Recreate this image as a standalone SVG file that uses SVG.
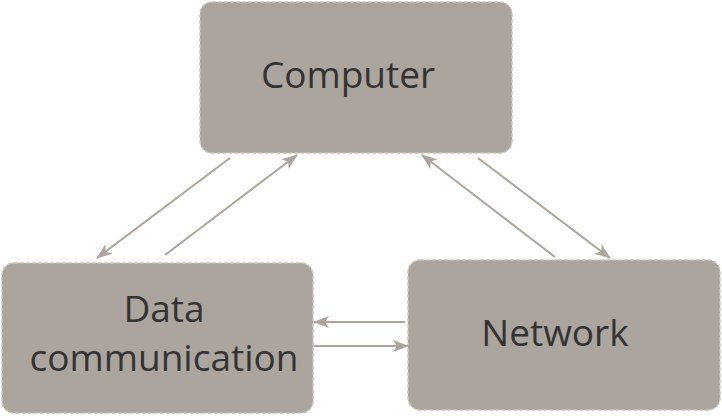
<svg xmlns="http://www.w3.org/2000/svg" width="722" height="416" viewBox="0 0 722 416">
<style>
.n{fill:#aca59d;stroke:#c9c3bc;stroke-width:1.5;stroke-dasharray:4 2}
.t{font-family:"Open Sans","DejaVu Sans",sans-serif;font-size:37px;fill:#333;text-anchor:middle}
.c{stroke:#aca59d;stroke-width:2;fill:none;marker-end:url(#a)}
</style>
<defs><marker id="a" markerWidth="16" markerHeight="12" refX="15" refY="6" orient="auto" markerUnits="userSpaceOnUse"><path d="M0,0L16,6L0,12L4,6Z" fill="#aca59d"/></marker></defs>
<g id="computer"><rect class="n" x="200" y="2" width="312" height="151" rx="12"/><text class="t" x="348" y="88">Computer</text></g>
<g id="datacomm"><rect class="n" x="2" y="263" width="311" height="150" rx="12"/><text class="t" x="164" y="322">Data</text><text class="t" x="164" y="371">communication</text></g>
<g id="network"><rect class="n" x="408" y="260" width="312" height="150" rx="12"/><text class="t" x="555" y="346">Network</text></g>
<g id="connectors">
<path class="c" d="M230,158L97,258"/>
<path class="c" d="M165,255L297,155"/>
<path class="c" d="M478,158L610,258"/>
<path class="c" d="M555,257L422,155"/>
<path class="c" d="M405,322L314,322"/>
<path class="c" d="M314,346L408,346"/>
</g>
</svg>
